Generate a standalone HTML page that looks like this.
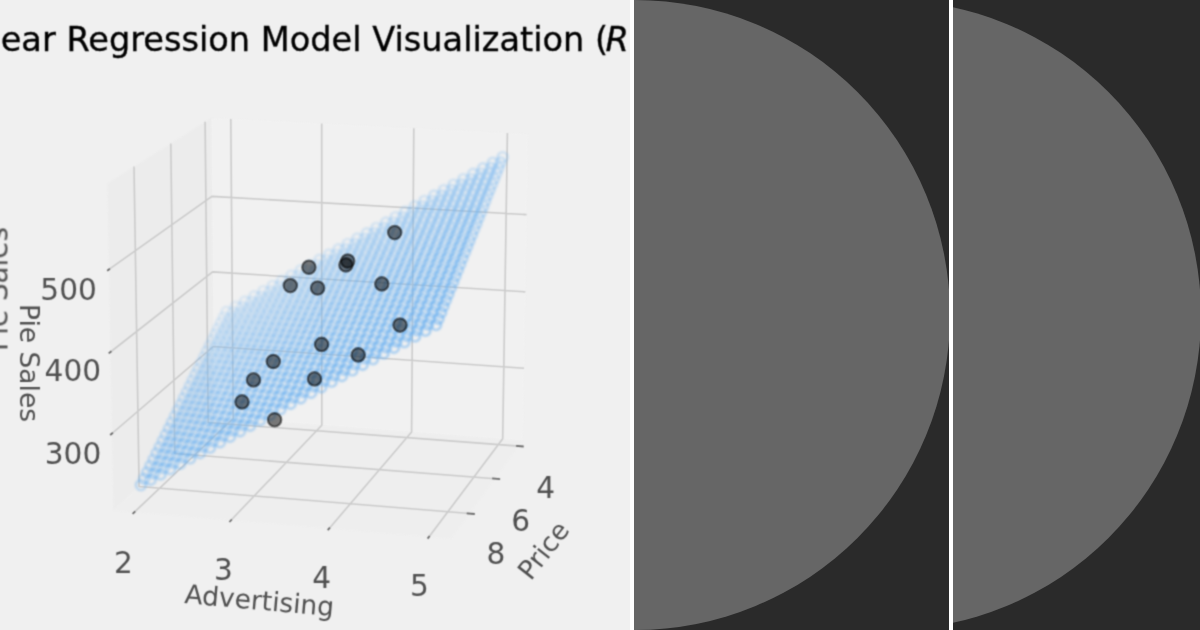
<!DOCTYPE html>
<html lang="en"><head><meta charset="utf-8"><title>Multi-Linear Regression Model Visualization</title>
<style>
html,body{margin:0;padding:0;background:#fff;}
body{width:1200px;height:630px;overflow:hidden;position:relative;font-family:"DejaVu Sans","Liberation Sans",sans-serif;}
.p{position:absolute;top:0;height:630px;overflow:hidden;}
#a{left:0;width:630px;background:#f0f0f0;}
#b{left:634px;width:315px;background:#2a2a2a;}
#c{left:953px;width:247px;background:#2a2a2a;}
.c{position:absolute;width:630px;height:630px;border-radius:50%;background:#666;top:0;}
svg{display:block;font-family:"DejaVu Sans","Liberation Sans",sans-serif;}
</style></head><body>
<div class="p" id="a"><svg width="630" height="630" viewBox="0 0 630 630">
<defs><filter id="bl" x="0" y="0" width="630" height="630" filterUnits="userSpaceOnUse" color-interpolation-filters="sRGB"><feConvolveMatrix order="3" divisor="1" edgeMode="duplicate" preserveAlpha="false" kernelMatrix="0.0400 0.1200 0.0400 0.1200 0.3600 0.1200 0.0400 0.1200 0.0400"/></filter><filter id="mb" x="100" y="120" width="440" height="400" filterUnits="userSpaceOnUse" color-interpolation-filters="sRGB"><feGaussianBlur stdDeviation="1"/></filter></defs>
<g filter="url(#bl)">
<polygon points="214,417 522.8,440.4 528,134.2 211.2,117.9" fill="#f1f1f1"/>
<polygon points="214,417 113.4,510.4 107.4,183.4 211.2,117.9" fill="#ececec"/>
<polygon points="214,417 522.8,440.4 451,538.7 113.4,510.4" fill="#eeeeee"/>
<path d="M518.6 446.1 L208.2 422.5 L205.1 121.7 M494.8 478.7 L174.8 453.5 L170.8 143.4 M469.4 513.5 L139.1 486.5 L134 166.6 M230.8 118.9 L233.2 418.5 L134.4 512.2 M321.7 123.6 L321.8 425.2 L231 520.3 M413.8 128.3 L411.6 431.9 L329.2 528.5 M507.4 133.1 L502.7 438.8 L428.9 536.9 M112 433.5 L213.3 346.5 L524 368.2 M110.5 352 L212.6 271.9 L525.3 291.9 M109 269.4 L211.9 196.4 L526.6 214.6" fill="none" stroke="#cbcbcb" stroke-width="1.6" stroke-linejoin="round"/>
<path d="M516.1 445.9 L523.7 446.5 M492.2 478.4 L500.1 479.1 M466.7 513.3 L474.8 514 M135.2 511.4 L132.6 513.9 M231.8 519.5 L229.4 522 M329.9 527.7 L327.7 530.2 M429.6 536 L427.6 538.6 M112.9 432.7 L110.2 435 M111.4 351.3 L108.7 353.4 M109.9 268.7 L107.2 270.7" fill="none" stroke="#6a6a6a" stroke-width="1.8"/>
<g fill="none" stroke="#70b3f0" stroke-width="1.4" filter="url(#mb)">
<circle cx="226.5" cy="311.8" r="5" stroke-opacity="0.30"/>
<circle cx="235.7" cy="306.6" r="5" stroke-opacity="0.31"/>
<circle cx="244.9" cy="301.5" r="5" stroke-opacity="0.31"/>
<circle cx="223.8" cy="317.4" r="5" stroke-opacity="0.31"/>
<circle cx="254.2" cy="296.3" r="5" stroke-opacity="0.32"/>
<circle cx="233" cy="312.2" r="5" stroke-opacity="0.32"/>
<circle cx="263.4" cy="291.1" r="5" stroke-opacity="0.33"/>
<circle cx="242.2" cy="307" r="5" stroke-opacity="0.33"/>
<circle cx="221" cy="322.9" r="5" stroke-opacity="0.33"/>
<circle cx="272.7" cy="285.9" r="5" stroke-opacity="0.34"/>
<circle cx="251.5" cy="301.8" r="5" stroke-opacity="0.34"/>
<circle cx="230.2" cy="317.8" r="5" stroke-opacity="0.34"/>
<circle cx="282" cy="280.7" r="5" stroke-opacity="0.34"/>
<circle cx="260.8" cy="296.7" r="5" stroke-opacity="0.34"/>
<circle cx="239.5" cy="312.6" r="5" stroke-opacity="0.34"/>
<circle cx="218.2" cy="328.6" r="5" stroke-opacity="0.34"/>
<circle cx="291.4" cy="275.5" r="5" stroke-opacity="0.35"/>
<circle cx="270.1" cy="291.5" r="5" stroke-opacity="0.35"/>
<circle cx="248.8" cy="307.4" r="5" stroke-opacity="0.35"/>
<circle cx="227.5" cy="323.4" r="5" stroke-opacity="0.35"/>
<circle cx="300.7" cy="270.2" r="5" stroke-opacity="0.36"/>
<circle cx="279.4" cy="286.2" r="5" stroke-opacity="0.36"/>
<circle cx="258.1" cy="302.2" r="5" stroke-opacity="0.36"/>
<circle cx="236.8" cy="318.2" r="5" stroke-opacity="0.36"/>
<circle cx="215.5" cy="334.2" r="5" stroke-opacity="0.36"/>
<circle cx="310.1" cy="265" r="5" stroke-opacity="0.36"/>
<circle cx="288.8" cy="281" r="5" stroke-opacity="0.37"/>
<circle cx="267.4" cy="297" r="5" stroke-opacity="0.37"/>
<circle cx="246.1" cy="313" r="5" stroke-opacity="0.37"/>
<circle cx="224.7" cy="329" r="5" stroke-opacity="0.37"/>
<circle cx="319.5" cy="259.7" r="5" stroke-opacity="0.37"/>
<circle cx="298.1" cy="275.8" r="5" stroke-opacity="0.37"/>
<circle cx="276.8" cy="291.8" r="5" stroke-opacity="0.37"/>
<circle cx="255.4" cy="307.8" r="5" stroke-opacity="0.37"/>
<circle cx="234" cy="323.8" r="5" stroke-opacity="0.37"/>
<circle cx="212.7" cy="339.9" r="5" stroke-opacity="0.37"/>
<circle cx="328.9" cy="254.5" r="5" stroke-opacity="0.38"/>
<circle cx="307.5" cy="270.5" r="5" stroke-opacity="0.38"/>
<circle cx="286.1" cy="286.5" r="5" stroke-opacity="0.38"/>
<circle cx="264.7" cy="302.6" r="5" stroke-opacity="0.38"/>
<circle cx="243.3" cy="318.6" r="5" stroke-opacity="0.38"/>
<circle cx="221.9" cy="334.7" r="5" stroke-opacity="0.38"/>
<circle cx="338.4" cy="249.2" r="5" stroke-opacity="0.39"/>
<circle cx="317" cy="265.2" r="5" stroke-opacity="0.39"/>
<circle cx="295.5" cy="281.3" r="5" stroke-opacity="0.39"/>
<circle cx="274.1" cy="297.4" r="5" stroke-opacity="0.39"/>
<circle cx="252.7" cy="313.4" r="5" stroke-opacity="0.39"/>
<circle cx="231.3" cy="329.5" r="5" stroke-opacity="0.39"/>
<circle cx="209.8" cy="345.6" r="5" stroke-opacity="0.39"/>
<circle cx="347.8" cy="243.9" r="5" stroke-opacity="0.39"/>
<circle cx="326.4" cy="259.9" r="5" stroke-opacity="0.39"/>
<circle cx="304.9" cy="276" r="5" stroke-opacity="0.39"/>
<circle cx="283.5" cy="292.1" r="5" stroke-opacity="0.39"/>
<circle cx="262.1" cy="308.2" r="5" stroke-opacity="0.39"/>
<circle cx="240.6" cy="324.3" r="5" stroke-opacity="0.39"/>
<circle cx="219.2" cy="340.4" r="5" stroke-opacity="0.40"/>
<circle cx="357.3" cy="238.5" r="5" stroke-opacity="0.40"/>
<circle cx="335.9" cy="254.6" r="5" stroke-opacity="0.40"/>
<circle cx="314.4" cy="270.7" r="5" stroke-opacity="0.40"/>
<circle cx="292.9" cy="286.9" r="5" stroke-opacity="0.40"/>
<circle cx="271.4" cy="303" r="5" stroke-opacity="0.40"/>
<circle cx="250" cy="319.1" r="5" stroke-opacity="0.40"/>
<circle cx="228.5" cy="335.2" r="5" stroke-opacity="0.40"/>
<circle cx="207" cy="351.3" r="5" stroke-opacity="0.40"/>
<circle cx="366.9" cy="233.2" r="5" stroke-opacity="0.41"/>
<circle cx="345.4" cy="249.3" r="5" stroke-opacity="0.41"/>
<circle cx="323.9" cy="265.5" r="5" stroke-opacity="0.41"/>
<circle cx="302.4" cy="281.6" r="5" stroke-opacity="0.41"/>
<circle cx="280.9" cy="297.7" r="5" stroke-opacity="0.41"/>
<circle cx="259.4" cy="313.8" r="5" stroke-opacity="0.41"/>
<circle cx="237.8" cy="330" r="5" stroke-opacity="0.41"/>
<circle cx="216.3" cy="346.1" r="5" stroke-opacity="0.41"/>
<circle cx="376.4" cy="227.9" r="5" stroke-opacity="0.42"/>
<circle cx="354.9" cy="244" r="5" stroke-opacity="0.42"/>
<circle cx="333.3" cy="260.2" r="5" stroke-opacity="0.42"/>
<circle cx="311.8" cy="276.3" r="5" stroke-opacity="0.42"/>
<circle cx="290.3" cy="292.5" r="5" stroke-opacity="0.42"/>
<circle cx="268.8" cy="308.6" r="5" stroke-opacity="0.42"/>
<circle cx="247.2" cy="324.8" r="5" stroke-opacity="0.42"/>
<circle cx="225.7" cy="340.9" r="5" stroke-opacity="0.42"/>
<circle cx="204.2" cy="357.1" r="5" stroke-opacity="0.42"/>
<circle cx="386" cy="222.5" r="5" stroke-opacity="0.42"/>
<circle cx="364.4" cy="238.7" r="5" stroke-opacity="0.42"/>
<circle cx="342.9" cy="254.8" r="5" stroke-opacity="0.42"/>
<circle cx="321.3" cy="271" r="5" stroke-opacity="0.42"/>
<circle cx="299.8" cy="287.2" r="5" stroke-opacity="0.42"/>
<circle cx="278.2" cy="303.3" r="5" stroke-opacity="0.42"/>
<circle cx="256.6" cy="319.5" r="5" stroke-opacity="0.42"/>
<circle cx="235.1" cy="335.7" r="5" stroke-opacity="0.42"/>
<circle cx="213.5" cy="351.9" r="5" stroke-opacity="0.42"/>
<circle cx="395.6" cy="217.1" r="5" stroke-opacity="0.43"/>
<circle cx="374" cy="233.3" r="5" stroke-opacity="0.43"/>
<circle cx="352.4" cy="249.5" r="5" stroke-opacity="0.43"/>
<circle cx="330.8" cy="265.7" r="5" stroke-opacity="0.43"/>
<circle cx="309.2" cy="281.9" r="5" stroke-opacity="0.43"/>
<circle cx="287.7" cy="298.1" r="5" stroke-opacity="0.43"/>
<circle cx="266.1" cy="314.3" r="5" stroke-opacity="0.43"/>
<circle cx="244.5" cy="330.5" r="5" stroke-opacity="0.43"/>
<circle cx="222.9" cy="346.6" r="5" stroke-opacity="0.43"/>
<circle cx="201.3" cy="362.8" r="5" stroke-opacity="0.43"/>
<circle cx="405.2" cy="211.7" r="5" stroke-opacity="0.44"/>
<circle cx="383.6" cy="228" r="5" stroke-opacity="0.44"/>
<circle cx="362" cy="244.2" r="5" stroke-opacity="0.44"/>
<circle cx="340.4" cy="260.4" r="5" stroke-opacity="0.44"/>
<circle cx="318.7" cy="276.6" r="5" stroke-opacity="0.44"/>
<circle cx="297.1" cy="292.8" r="5" stroke-opacity="0.44"/>
<circle cx="275.5" cy="309" r="5" stroke-opacity="0.44"/>
<circle cx="253.9" cy="325.2" r="5" stroke-opacity="0.44"/>
<circle cx="232.3" cy="341.4" r="5" stroke-opacity="0.44"/>
<circle cx="210.7" cy="357.6" r="5" stroke-opacity="0.44"/>
<circle cx="414.8" cy="206.3" r="5" stroke-opacity="0.45"/>
<circle cx="393.2" cy="222.6" r="5" stroke-opacity="0.45"/>
<circle cx="371.6" cy="238.8" r="5" stroke-opacity="0.45"/>
<circle cx="349.9" cy="255" r="5" stroke-opacity="0.45"/>
<circle cx="328.3" cy="271.3" r="5" stroke-opacity="0.45"/>
<circle cx="306.6" cy="287.5" r="5" stroke-opacity="0.45"/>
<circle cx="285" cy="303.7" r="5" stroke-opacity="0.45"/>
<circle cx="263.4" cy="320" r="5" stroke-opacity="0.45"/>
<circle cx="241.7" cy="336.2" r="5" stroke-opacity="0.45"/>
<circle cx="220.1" cy="352.4" r="5" stroke-opacity="0.45"/>
<circle cx="198.4" cy="368.7" r="5" stroke-opacity="0.45"/>
<circle cx="424.5" cy="200.9" r="5" stroke-opacity="0.45"/>
<circle cx="402.8" cy="217.2" r="5" stroke-opacity="0.45"/>
<circle cx="381.2" cy="233.4" r="5" stroke-opacity="0.45"/>
<circle cx="359.5" cy="249.7" r="5" stroke-opacity="0.45"/>
<circle cx="337.8" cy="265.9" r="5" stroke-opacity="0.45"/>
<circle cx="316.2" cy="282.2" r="5" stroke-opacity="0.45"/>
<circle cx="294.5" cy="298.4" r="5" stroke-opacity="0.45"/>
<circle cx="272.8" cy="314.7" r="5" stroke-opacity="0.45"/>
<circle cx="251.2" cy="330.9" r="5" stroke-opacity="0.45"/>
<circle cx="229.5" cy="347.2" r="5" stroke-opacity="0.46"/>
<circle cx="207.8" cy="363.5" r="5" stroke-opacity="0.46"/>
<circle cx="434.2" cy="195.5" r="5" stroke-opacity="0.46"/>
<circle cx="412.5" cy="211.8" r="5" stroke-opacity="0.46"/>
<circle cx="390.8" cy="228" r="5" stroke-opacity="0.46"/>
<circle cx="369.1" cy="244.3" r="5" stroke-opacity="0.46"/>
<circle cx="347.4" cy="260.6" r="5" stroke-opacity="0.46"/>
<circle cx="325.7" cy="276.9" r="5" stroke-opacity="0.46"/>
<circle cx="304" cy="293.1" r="5" stroke-opacity="0.46"/>
<circle cx="282.3" cy="309.4" r="5" stroke-opacity="0.46"/>
<circle cx="260.6" cy="325.7" r="5" stroke-opacity="0.46"/>
<circle cx="238.9" cy="342" r="5" stroke-opacity="0.46"/>
<circle cx="217.2" cy="358.2" r="5" stroke-opacity="0.46"/>
<circle cx="195.5" cy="374.5" r="5" stroke-opacity="0.46"/>
<circle cx="443.9" cy="190.1" r="5" stroke-opacity="0.47"/>
<circle cx="422.2" cy="206.4" r="5" stroke-opacity="0.47"/>
<circle cx="400.5" cy="222.6" r="5" stroke-opacity="0.47"/>
<circle cx="378.7" cy="238.9" r="5" stroke-opacity="0.47"/>
<circle cx="357" cy="255.2" r="5" stroke-opacity="0.47"/>
<circle cx="335.3" cy="271.5" r="5" stroke-opacity="0.47"/>
<circle cx="313.6" cy="287.8" r="5" stroke-opacity="0.47"/>
<circle cx="291.9" cy="304.1" r="5" stroke-opacity="0.47"/>
<circle cx="270.1" cy="320.4" r="5" stroke-opacity="0.47"/>
<circle cx="248.4" cy="336.7" r="5" stroke-opacity="0.47"/>
<circle cx="226.7" cy="353" r="5" stroke-opacity="0.47"/>
<circle cx="205" cy="369.3" r="5" stroke-opacity="0.47"/>
<circle cx="453.6" cy="184.6" r="5" stroke-opacity="0.48"/>
<circle cx="431.9" cy="200.9" r="5" stroke-opacity="0.48"/>
<circle cx="410.1" cy="217.2" r="5" stroke-opacity="0.48"/>
<circle cx="388.4" cy="233.5" r="5" stroke-opacity="0.48"/>
<circle cx="366.7" cy="249.9" r="5" stroke-opacity="0.48"/>
<circle cx="344.9" cy="266.2" r="5" stroke-opacity="0.48"/>
<circle cx="323.2" cy="282.5" r="5" stroke-opacity="0.48"/>
<circle cx="301.4" cy="298.8" r="5" stroke-opacity="0.48"/>
<circle cx="279.7" cy="315.1" r="5" stroke-opacity="0.48"/>
<circle cx="257.9" cy="331.4" r="5" stroke-opacity="0.48"/>
<circle cx="236.1" cy="347.7" r="5" stroke-opacity="0.48"/>
<circle cx="214.4" cy="364.1" r="5" stroke-opacity="0.48"/>
<circle cx="192.6" cy="380.4" r="5" stroke-opacity="0.48"/>
<circle cx="463.4" cy="179.1" r="5" stroke-opacity="0.48"/>
<circle cx="441.6" cy="195.5" r="5" stroke-opacity="0.48"/>
<circle cx="419.9" cy="211.8" r="5" stroke-opacity="0.48"/>
<circle cx="398.1" cy="228.1" r="5" stroke-opacity="0.48"/>
<circle cx="376.3" cy="244.5" r="5" stroke-opacity="0.48"/>
<circle cx="354.5" cy="260.8" r="5" stroke-opacity="0.48"/>
<circle cx="332.8" cy="277.1" r="5" stroke-opacity="0.48"/>
<circle cx="311" cy="293.5" r="5" stroke-opacity="0.48"/>
<circle cx="289.2" cy="309.8" r="5" stroke-opacity="0.49"/>
<circle cx="267.4" cy="326.1" r="5" stroke-opacity="0.49"/>
<circle cx="245.6" cy="342.5" r="5" stroke-opacity="0.49"/>
<circle cx="223.9" cy="358.8" r="5" stroke-opacity="0.49"/>
<circle cx="202.1" cy="375.2" r="5" stroke-opacity="0.49"/>
<circle cx="473.2" cy="173.7" r="5" stroke-opacity="0.49"/>
<circle cx="451.4" cy="190" r="5" stroke-opacity="0.49"/>
<circle cx="429.6" cy="206.4" r="5" stroke-opacity="0.49"/>
<circle cx="407.8" cy="222.7" r="5" stroke-opacity="0.49"/>
<circle cx="386" cy="239.1" r="5" stroke-opacity="0.49"/>
<circle cx="364.2" cy="255.4" r="5" stroke-opacity="0.49"/>
<circle cx="342.4" cy="271.8" r="5" stroke-opacity="0.49"/>
<circle cx="320.6" cy="288.1" r="5" stroke-opacity="0.49"/>
<circle cx="298.8" cy="304.5" r="5" stroke-opacity="0.49"/>
<circle cx="277" cy="320.9" r="5" stroke-opacity="0.49"/>
<circle cx="255.2" cy="337.2" r="5" stroke-opacity="0.49"/>
<circle cx="233.3" cy="353.6" r="5" stroke-opacity="0.49"/>
<circle cx="211.5" cy="369.9" r="5" stroke-opacity="0.49"/>
<circle cx="189.7" cy="386.3" r="5" stroke-opacity="0.49"/>
<circle cx="483" cy="168.2" r="5" stroke-opacity="0.50"/>
<circle cx="461.2" cy="184.5" r="5" stroke-opacity="0.50"/>
<circle cx="439.3" cy="200.9" r="5" stroke-opacity="0.50"/>
<circle cx="417.5" cy="217.3" r="5" stroke-opacity="0.50"/>
<circle cx="395.7" cy="233.7" r="5" stroke-opacity="0.50"/>
<circle cx="373.9" cy="250" r="5" stroke-opacity="0.50"/>
<circle cx="352" cy="266.4" r="5" stroke-opacity="0.50"/>
<circle cx="330.2" cy="282.8" r="5" stroke-opacity="0.50"/>
<circle cx="308.4" cy="299.2" r="5" stroke-opacity="0.50"/>
<circle cx="286.5" cy="315.5" r="5" stroke-opacity="0.50"/>
<circle cx="264.7" cy="331.9" r="5" stroke-opacity="0.50"/>
<circle cx="242.9" cy="348.3" r="5" stroke-opacity="0.50"/>
<circle cx="221" cy="364.7" r="5" stroke-opacity="0.50"/>
<circle cx="199.2" cy="381.1" r="5" stroke-opacity="0.50"/>
<circle cx="492.8" cy="162.7" r="5" stroke-opacity="0.51"/>
<circle cx="471" cy="179.1" r="5" stroke-opacity="0.51"/>
<circle cx="449.1" cy="195.4" r="5" stroke-opacity="0.51"/>
<circle cx="427.3" cy="211.8" r="5" stroke-opacity="0.51"/>
<circle cx="405.4" cy="228.2" r="5" stroke-opacity="0.51"/>
<circle cx="383.6" cy="244.6" r="5" stroke-opacity="0.51"/>
<circle cx="361.7" cy="261" r="5" stroke-opacity="0.51"/>
<circle cx="339.8" cy="277.4" r="5" stroke-opacity="0.51"/>
<circle cx="318" cy="293.8" r="5" stroke-opacity="0.51"/>
<circle cx="296.1" cy="310.2" r="5" stroke-opacity="0.51"/>
<circle cx="274.3" cy="326.6" r="5" stroke-opacity="0.51"/>
<circle cx="252.4" cy="343" r="5" stroke-opacity="0.51"/>
<circle cx="230.5" cy="359.4" r="5" stroke-opacity="0.51"/>
<circle cx="208.7" cy="375.8" r="5" stroke-opacity="0.51"/>
<circle cx="186.8" cy="392.2" r="5" stroke-opacity="0.51"/>
<circle cx="502.7" cy="157.1" r="5" stroke-opacity="0.51"/>
<circle cx="480.8" cy="173.6" r="5" stroke-opacity="0.51"/>
<circle cx="458.9" cy="190" r="5" stroke-opacity="0.51"/>
<circle cx="437.1" cy="206.4" r="5" stroke-opacity="0.51"/>
<circle cx="415.2" cy="222.8" r="5" stroke-opacity="0.52"/>
<circle cx="393.3" cy="239.2" r="5" stroke-opacity="0.52"/>
<circle cx="371.4" cy="255.6" r="5" stroke-opacity="0.52"/>
<circle cx="349.5" cy="272" r="5" stroke-opacity="0.52"/>
<circle cx="327.6" cy="288.5" r="5" stroke-opacity="0.52"/>
<circle cx="305.7" cy="304.9" r="5" stroke-opacity="0.52"/>
<circle cx="283.8" cy="321.3" r="5" stroke-opacity="0.52"/>
<circle cx="261.9" cy="337.7" r="5" stroke-opacity="0.52"/>
<circle cx="240.1" cy="354.1" r="5" stroke-opacity="0.52"/>
<circle cx="218.2" cy="370.6" r="5" stroke-opacity="0.52"/>
<circle cx="196.3" cy="387" r="5" stroke-opacity="0.52"/>
<circle cx="490.7" cy="168" r="5" stroke-opacity="0.52"/>
<circle cx="468.8" cy="184.5" r="5" stroke-opacity="0.52"/>
<circle cx="446.9" cy="200.9" r="5" stroke-opacity="0.52"/>
<circle cx="424.9" cy="217.3" r="5" stroke-opacity="0.52"/>
<circle cx="403" cy="233.8" r="5" stroke-opacity="0.52"/>
<circle cx="381.1" cy="250.2" r="5" stroke-opacity="0.52"/>
<circle cx="359.2" cy="266.7" r="5" stroke-opacity="0.52"/>
<circle cx="337.3" cy="283.1" r="5" stroke-opacity="0.52"/>
<circle cx="315.4" cy="299.5" r="5" stroke-opacity="0.52"/>
<circle cx="293.5" cy="316" r="5" stroke-opacity="0.52"/>
<circle cx="271.5" cy="332.4" r="5" stroke-opacity="0.52"/>
<circle cx="249.6" cy="348.9" r="5" stroke-opacity="0.52"/>
<circle cx="227.7" cy="365.3" r="5" stroke-opacity="0.52"/>
<circle cx="205.8" cy="381.8" r="5" stroke-opacity="0.52"/>
<circle cx="183.8" cy="398.2" r="5" stroke-opacity="0.52"/>
<circle cx="500.6" cy="162.5" r="5" stroke-opacity="0.53"/>
<circle cx="478.6" cy="179" r="5" stroke-opacity="0.53"/>
<circle cx="456.7" cy="195.4" r="5" stroke-opacity="0.53"/>
<circle cx="434.7" cy="211.9" r="5" stroke-opacity="0.53"/>
<circle cx="412.8" cy="228.3" r="5" stroke-opacity="0.53"/>
<circle cx="390.9" cy="244.8" r="5" stroke-opacity="0.53"/>
<circle cx="368.9" cy="261.2" r="5" stroke-opacity="0.53"/>
<circle cx="347" cy="277.7" r="5" stroke-opacity="0.53"/>
<circle cx="325" cy="294.2" r="5" stroke-opacity="0.53"/>
<circle cx="303.1" cy="310.6" r="5" stroke-opacity="0.53"/>
<circle cx="281.1" cy="327.1" r="5" stroke-opacity="0.53"/>
<circle cx="259.2" cy="343.6" r="5" stroke-opacity="0.53"/>
<circle cx="237.2" cy="360" r="5" stroke-opacity="0.53"/>
<circle cx="215.3" cy="376.5" r="5" stroke-opacity="0.53"/>
<circle cx="193.3" cy="393" r="5" stroke-opacity="0.53"/>
<circle cx="488.5" cy="173.4" r="5" stroke-opacity="0.54"/>
<circle cx="466.5" cy="189.9" r="5" stroke-opacity="0.54"/>
<circle cx="444.6" cy="206.4" r="5" stroke-opacity="0.54"/>
<circle cx="422.6" cy="222.9" r="5" stroke-opacity="0.54"/>
<circle cx="400.6" cy="239.3" r="5" stroke-opacity="0.54"/>
<circle cx="378.7" cy="255.8" r="5" stroke-opacity="0.54"/>
<circle cx="356.7" cy="272.3" r="5" stroke-opacity="0.54"/>
<circle cx="334.7" cy="288.8" r="5" stroke-opacity="0.54"/>
<circle cx="312.7" cy="305.3" r="5" stroke-opacity="0.54"/>
<circle cx="290.8" cy="321.8" r="5" stroke-opacity="0.54"/>
<circle cx="268.8" cy="338.2" r="5" stroke-opacity="0.54"/>
<circle cx="246.8" cy="354.7" r="5" stroke-opacity="0.54"/>
<circle cx="224.8" cy="371.2" r="5" stroke-opacity="0.54"/>
<circle cx="202.9" cy="387.7" r="5" stroke-opacity="0.54"/>
<circle cx="180.9" cy="404.2" r="5" stroke-opacity="0.54"/>
<circle cx="498.4" cy="167.9" r="5" stroke-opacity="0.55"/>
<circle cx="476.4" cy="184.4" r="5" stroke-opacity="0.55"/>
<circle cx="454.4" cy="200.9" r="5" stroke-opacity="0.55"/>
<circle cx="432.4" cy="217.4" r="5" stroke-opacity="0.55"/>
<circle cx="410.4" cy="233.9" r="5" stroke-opacity="0.55"/>
<circle cx="388.4" cy="250.4" r="5" stroke-opacity="0.55"/>
<circle cx="366.4" cy="266.9" r="5" stroke-opacity="0.55"/>
<circle cx="344.4" cy="283.4" r="5" stroke-opacity="0.55"/>
<circle cx="322.4" cy="299.9" r="5" stroke-opacity="0.55"/>
<circle cx="300.4" cy="316.4" r="5" stroke-opacity="0.55"/>
<circle cx="278.4" cy="332.9" r="5" stroke-opacity="0.55"/>
<circle cx="256.4" cy="349.4" r="5" stroke-opacity="0.55"/>
<circle cx="234.4" cy="365.9" r="5" stroke-opacity="0.55"/>
<circle cx="212.4" cy="382.4" r="5" stroke-opacity="0.55"/>
<circle cx="190.4" cy="399" r="5" stroke-opacity="0.55"/>
<circle cx="486.3" cy="178.9" r="5" stroke-opacity="0.55"/>
<circle cx="464.3" cy="195.4" r="5" stroke-opacity="0.55"/>
<circle cx="442.3" cy="211.9" r="5" stroke-opacity="0.55"/>
<circle cx="420.3" cy="228.4" r="5" stroke-opacity="0.55"/>
<circle cx="398.2" cy="244.9" r="5" stroke-opacity="0.55"/>
<circle cx="376.2" cy="261.5" r="5" stroke-opacity="0.55"/>
<circle cx="354.2" cy="278" r="5" stroke-opacity="0.55"/>
<circle cx="332.1" cy="294.5" r="5" stroke-opacity="0.55"/>
<circle cx="310.1" cy="311.1" r="5" stroke-opacity="0.55"/>
<circle cx="288.1" cy="327.6" r="5" stroke-opacity="0.55"/>
<circle cx="266" cy="344.1" r="5" stroke-opacity="0.56"/>
<circle cx="244" cy="360.6" r="5" stroke-opacity="0.56"/>
<circle cx="222" cy="377.2" r="5" stroke-opacity="0.56"/>
<circle cx="199.9" cy="393.7" r="5" stroke-opacity="0.56"/>
<circle cx="177.9" cy="410.2" r="5" stroke-opacity="0.56"/>
<circle cx="496.3" cy="173.3" r="5" stroke-opacity="0.56"/>
<circle cx="474.2" cy="189.9" r="5" stroke-opacity="0.56"/>
<circle cx="452.2" cy="206.4" r="5" stroke-opacity="0.56"/>
<circle cx="430.1" cy="222.9" r="5" stroke-opacity="0.56"/>
<circle cx="408.1" cy="239.5" r="5" stroke-opacity="0.56"/>
<circle cx="386" cy="256" r="5" stroke-opacity="0.56"/>
<circle cx="363.9" cy="272.6" r="5" stroke-opacity="0.56"/>
<circle cx="341.9" cy="289.1" r="5" stroke-opacity="0.56"/>
<circle cx="319.8" cy="305.7" r="5" stroke-opacity="0.56"/>
<circle cx="297.8" cy="322.2" r="5" stroke-opacity="0.56"/>
<circle cx="275.7" cy="338.8" r="5" stroke-opacity="0.56"/>
<circle cx="253.6" cy="355.3" r="5" stroke-opacity="0.56"/>
<circle cx="231.6" cy="371.9" r="5" stroke-opacity="0.56"/>
<circle cx="209.5" cy="388.4" r="5" stroke-opacity="0.56"/>
<circle cx="187.4" cy="405" r="5" stroke-opacity="0.56"/>
<circle cx="484.1" cy="184.3" r="5" stroke-opacity="0.57"/>
<circle cx="462.1" cy="200.9" r="5" stroke-opacity="0.57"/>
<circle cx="440" cy="217.4" r="5" stroke-opacity="0.57"/>
<circle cx="417.9" cy="234" r="5" stroke-opacity="0.57"/>
<circle cx="395.8" cy="250.6" r="5" stroke-opacity="0.57"/>
<circle cx="373.7" cy="267.1" r="5" stroke-opacity="0.57"/>
<circle cx="351.6" cy="283.7" r="5" stroke-opacity="0.57"/>
<circle cx="329.6" cy="300.3" r="5" stroke-opacity="0.57"/>
<circle cx="307.5" cy="316.9" r="5" stroke-opacity="0.57"/>
<circle cx="285.4" cy="333.4" r="5" stroke-opacity="0.57"/>
<circle cx="263.3" cy="350" r="5" stroke-opacity="0.57"/>
<circle cx="241.2" cy="366.6" r="5" stroke-opacity="0.57"/>
<circle cx="219.1" cy="383.1" r="5" stroke-opacity="0.57"/>
<circle cx="197" cy="399.7" r="5" stroke-opacity="0.57"/>
<circle cx="174.9" cy="416.3" r="5" stroke-opacity="0.57"/>
<circle cx="494.1" cy="178.8" r="5" stroke-opacity="0.58"/>
<circle cx="472" cy="195.4" r="5" stroke-opacity="0.58"/>
<circle cx="449.9" cy="211.9" r="5" stroke-opacity="0.58"/>
<circle cx="427.8" cy="228.5" r="5" stroke-opacity="0.58"/>
<circle cx="405.7" cy="245.1" r="5" stroke-opacity="0.58"/>
<circle cx="383.5" cy="261.7" r="5" stroke-opacity="0.58"/>
<circle cx="361.4" cy="278.3" r="5" stroke-opacity="0.58"/>
<circle cx="339.3" cy="294.9" r="5" stroke-opacity="0.58"/>
<circle cx="317.2" cy="311.5" r="5" stroke-opacity="0.58"/>
<circle cx="295.1" cy="328.1" r="5" stroke-opacity="0.58"/>
<circle cx="273" cy="344.7" r="5" stroke-opacity="0.58"/>
<circle cx="250.8" cy="361.2" r="5" stroke-opacity="0.58"/>
<circle cx="228.7" cy="377.8" r="5" stroke-opacity="0.58"/>
<circle cx="206.6" cy="394.4" r="5" stroke-opacity="0.58"/>
<circle cx="184.5" cy="411" r="5" stroke-opacity="0.58"/>
<circle cx="481.9" cy="189.8" r="5" stroke-opacity="0.59"/>
<circle cx="459.8" cy="206.4" r="5" stroke-opacity="0.59"/>
<circle cx="437.7" cy="223" r="5" stroke-opacity="0.59"/>
<circle cx="415.5" cy="239.6" r="5" stroke-opacity="0.59"/>
<circle cx="393.4" cy="256.2" r="5" stroke-opacity="0.59"/>
<circle cx="371.2" cy="272.8" r="5" stroke-opacity="0.59"/>
<circle cx="349.1" cy="289.5" r="5" stroke-opacity="0.59"/>
<circle cx="326.9" cy="306.1" r="5" stroke-opacity="0.59"/>
<circle cx="304.8" cy="322.7" r="5" stroke-opacity="0.59"/>
<circle cx="282.7" cy="339.3" r="5" stroke-opacity="0.59"/>
<circle cx="260.5" cy="355.9" r="5" stroke-opacity="0.59"/>
<circle cx="238.4" cy="372.5" r="5" stroke-opacity="0.59"/>
<circle cx="216.2" cy="389.1" r="5" stroke-opacity="0.59"/>
<circle cx="194" cy="405.8" r="5" stroke-opacity="0.59"/>
<circle cx="171.9" cy="422.4" r="5" stroke-opacity="0.59"/>
<circle cx="491.9" cy="184.2" r="5" stroke-opacity="0.59"/>
<circle cx="469.8" cy="200.9" r="5" stroke-opacity="0.59"/>
<circle cx="447.6" cy="217.5" r="5" stroke-opacity="0.59"/>
<circle cx="425.4" cy="234.1" r="5" stroke-opacity="0.59"/>
<circle cx="403.2" cy="250.8" r="5" stroke-opacity="0.59"/>
<circle cx="381.1" cy="267.4" r="5" stroke-opacity="0.59"/>
<circle cx="358.9" cy="284" r="5" stroke-opacity="0.59"/>
<circle cx="336.7" cy="300.7" r="5" stroke-opacity="0.59"/>
<circle cx="314.6" cy="317.3" r="5" stroke-opacity="0.59"/>
<circle cx="292.4" cy="333.9" r="5" stroke-opacity="0.59"/>
<circle cx="270.2" cy="350.6" r="5" stroke-opacity="0.59"/>
<circle cx="248" cy="367.2" r="5" stroke-opacity="0.59"/>
<circle cx="225.8" cy="383.8" r="5" stroke-opacity="0.59"/>
<circle cx="203.7" cy="400.5" r="5" stroke-opacity="0.59"/>
<circle cx="181.5" cy="417.1" r="5" stroke-opacity="0.60"/>
<circle cx="479.7" cy="195.3" r="5" stroke-opacity="0.60"/>
<circle cx="457.5" cy="212" r="5" stroke-opacity="0.60"/>
<circle cx="435.3" cy="228.6" r="5" stroke-opacity="0.60"/>
<circle cx="413.1" cy="245.3" r="5" stroke-opacity="0.60"/>
<circle cx="390.9" cy="261.9" r="5" stroke-opacity="0.60"/>
<circle cx="368.7" cy="278.6" r="5" stroke-opacity="0.60"/>
<circle cx="346.5" cy="295.2" r="5" stroke-opacity="0.60"/>
<circle cx="324.3" cy="311.9" r="5" stroke-opacity="0.60"/>
<circle cx="302.1" cy="328.5" r="5" stroke-opacity="0.60"/>
<circle cx="279.9" cy="345.2" r="5" stroke-opacity="0.60"/>
<circle cx="257.7" cy="361.9" r="5" stroke-opacity="0.60"/>
<circle cx="235.5" cy="378.5" r="5" stroke-opacity="0.60"/>
<circle cx="213.3" cy="395.2" r="5" stroke-opacity="0.60"/>
<circle cx="191.1" cy="411.8" r="5" stroke-opacity="0.60"/>
<circle cx="168.9" cy="428.5" r="5" stroke-opacity="0.60"/>
<circle cx="489.7" cy="189.8" r="5" stroke-opacity="0.61"/>
<circle cx="467.5" cy="206.4" r="5" stroke-opacity="0.61"/>
<circle cx="445.3" cy="223.1" r="5" stroke-opacity="0.61"/>
<circle cx="423.1" cy="239.8" r="5" stroke-opacity="0.61"/>
<circle cx="400.8" cy="256.4" r="5" stroke-opacity="0.61"/>
<circle cx="378.6" cy="273.1" r="5" stroke-opacity="0.61"/>
<circle cx="356.4" cy="289.8" r="5" stroke-opacity="0.61"/>
<circle cx="334.1" cy="306.5" r="5" stroke-opacity="0.61"/>
<circle cx="311.9" cy="323.2" r="5" stroke-opacity="0.61"/>
<circle cx="289.7" cy="339.8" r="5" stroke-opacity="0.61"/>
<circle cx="267.4" cy="356.5" r="5" stroke-opacity="0.61"/>
<circle cx="245.2" cy="373.2" r="5" stroke-opacity="0.61"/>
<circle cx="222.9" cy="389.9" r="5" stroke-opacity="0.61"/>
<circle cx="200.7" cy="406.6" r="5" stroke-opacity="0.61"/>
<circle cx="178.5" cy="423.2" r="5" stroke-opacity="0.61"/>
<circle cx="477.5" cy="200.9" r="5" stroke-opacity="0.62"/>
<circle cx="455.3" cy="217.6" r="5" stroke-opacity="0.62"/>
<circle cx="433" cy="234.3" r="5" stroke-opacity="0.62"/>
<circle cx="410.7" cy="250.9" r="5" stroke-opacity="0.62"/>
<circle cx="388.5" cy="267.6" r="5" stroke-opacity="0.62"/>
<circle cx="366.2" cy="284.3" r="5" stroke-opacity="0.62"/>
<circle cx="344" cy="301" r="5" stroke-opacity="0.62"/>
<circle cx="321.7" cy="317.7" r="5" stroke-opacity="0.62"/>
<circle cx="299.4" cy="334.4" r="5" stroke-opacity="0.62"/>
<circle cx="277.2" cy="351.1" r="5" stroke-opacity="0.62"/>
<circle cx="254.9" cy="367.8" r="5" stroke-opacity="0.62"/>
<circle cx="232.6" cy="384.6" r="5" stroke-opacity="0.62"/>
<circle cx="210.4" cy="401.3" r="5" stroke-opacity="0.62"/>
<circle cx="188.1" cy="418" r="5" stroke-opacity="0.62"/>
<circle cx="165.8" cy="434.7" r="5" stroke-opacity="0.62"/>
<circle cx="487.5" cy="195.3" r="5" stroke-opacity="0.62"/>
<circle cx="465.2" cy="212" r="5" stroke-opacity="0.62"/>
<circle cx="443" cy="228.7" r="5" stroke-opacity="0.63"/>
<circle cx="420.7" cy="245.4" r="5" stroke-opacity="0.63"/>
<circle cx="398.4" cy="262.2" r="5" stroke-opacity="0.63"/>
<circle cx="376.1" cy="278.9" r="5" stroke-opacity="0.63"/>
<circle cx="353.8" cy="295.6" r="5" stroke-opacity="0.63"/>
<circle cx="331.5" cy="312.3" r="5" stroke-opacity="0.63"/>
<circle cx="309.2" cy="329" r="5" stroke-opacity="0.63"/>
<circle cx="286.9" cy="345.8" r="5" stroke-opacity="0.63"/>
<circle cx="264.6" cy="362.5" r="5" stroke-opacity="0.63"/>
<circle cx="242.3" cy="379.2" r="5" stroke-opacity="0.63"/>
<circle cx="220" cy="395.9" r="5" stroke-opacity="0.63"/>
<circle cx="197.7" cy="412.7" r="5" stroke-opacity="0.63"/>
<circle cx="175.4" cy="429.4" r="5" stroke-opacity="0.63"/>
<circle cx="475.3" cy="206.4" r="5" stroke-opacity="0.63"/>
<circle cx="453" cy="223.2" r="5" stroke-opacity="0.63"/>
<circle cx="430.6" cy="239.9" r="5" stroke-opacity="0.63"/>
<circle cx="408.3" cy="256.7" r="5" stroke-opacity="0.63"/>
<circle cx="386" cy="273.4" r="5" stroke-opacity="0.63"/>
<circle cx="363.7" cy="290.1" r="5" stroke-opacity="0.63"/>
<circle cx="341.4" cy="306.9" r="5" stroke-opacity="0.63"/>
<circle cx="319" cy="323.6" r="5" stroke-opacity="0.63"/>
<circle cx="296.7" cy="340.4" r="5" stroke-opacity="0.63"/>
<circle cx="274.4" cy="357.1" r="5" stroke-opacity="0.63"/>
<circle cx="252.1" cy="373.9" r="5" stroke-opacity="0.63"/>
<circle cx="229.8" cy="390.6" r="5" stroke-opacity="0.63"/>
<circle cx="207.4" cy="407.4" r="5" stroke-opacity="0.63"/>
<circle cx="185.1" cy="424.1" r="5" stroke-opacity="0.64"/>
<circle cx="162.8" cy="440.9" r="5" stroke-opacity="0.64"/>
<circle cx="485.3" cy="200.9" r="5" stroke-opacity="0.64"/>
<circle cx="463" cy="217.6" r="5" stroke-opacity="0.64"/>
<circle cx="440.6" cy="234.4" r="5" stroke-opacity="0.64"/>
<circle cx="418.3" cy="251.1" r="5" stroke-opacity="0.64"/>
<circle cx="395.9" cy="267.9" r="5" stroke-opacity="0.64"/>
<circle cx="373.6" cy="284.7" r="5" stroke-opacity="0.64"/>
<circle cx="351.2" cy="301.4" r="5" stroke-opacity="0.64"/>
<circle cx="328.9" cy="318.2" r="5" stroke-opacity="0.64"/>
<circle cx="306.5" cy="335" r="5" stroke-opacity="0.64"/>
<circle cx="284.2" cy="351.7" r="5" stroke-opacity="0.64"/>
<circle cx="261.8" cy="368.5" r="5" stroke-opacity="0.64"/>
<circle cx="239.5" cy="385.3" r="5" stroke-opacity="0.64"/>
<circle cx="217.1" cy="402" r="5" stroke-opacity="0.64"/>
<circle cx="194.8" cy="418.8" r="5" stroke-opacity="0.64"/>
<circle cx="172.4" cy="435.6" r="5" stroke-opacity="0.64"/>
<circle cx="473" cy="212" r="5" stroke-opacity="0.65"/>
<circle cx="450.7" cy="228.8" r="5" stroke-opacity="0.65"/>
<circle cx="428.3" cy="245.6" r="5" stroke-opacity="0.65"/>
<circle cx="405.9" cy="262.4" r="5" stroke-opacity="0.65"/>
<circle cx="383.5" cy="279.2" r="5" stroke-opacity="0.65"/>
<circle cx="361.1" cy="296" r="5" stroke-opacity="0.65"/>
<circle cx="338.8" cy="312.7" r="5" stroke-opacity="0.65"/>
<circle cx="316.4" cy="329.5" r="5" stroke-opacity="0.65"/>
<circle cx="294" cy="346.3" r="5" stroke-opacity="0.65"/>
<circle cx="271.6" cy="363.1" r="5" stroke-opacity="0.65"/>
<circle cx="249.2" cy="379.9" r="5" stroke-opacity="0.65"/>
<circle cx="226.9" cy="396.7" r="5" stroke-opacity="0.65"/>
<circle cx="204.5" cy="413.5" r="5" stroke-opacity="0.65"/>
<circle cx="182.1" cy="430.3" r="5" stroke-opacity="0.65"/>
<circle cx="159.7" cy="447.1" r="5" stroke-opacity="0.65"/>
<circle cx="483.1" cy="206.4" r="5" stroke-opacity="0.66"/>
<circle cx="460.7" cy="223.2" r="5" stroke-opacity="0.66"/>
<circle cx="438.3" cy="240.1" r="5" stroke-opacity="0.66"/>
<circle cx="415.9" cy="256.9" r="5" stroke-opacity="0.66"/>
<circle cx="393.5" cy="273.7" r="5" stroke-opacity="0.66"/>
<circle cx="371.1" cy="290.5" r="5" stroke-opacity="0.66"/>
<circle cx="348.7" cy="307.3" r="5" stroke-opacity="0.66"/>
<circle cx="326.3" cy="324.1" r="5" stroke-opacity="0.66"/>
<circle cx="303.8" cy="340.9" r="5" stroke-opacity="0.66"/>
<circle cx="281.4" cy="357.7" r="5" stroke-opacity="0.66"/>
<circle cx="259" cy="374.5" r="5" stroke-opacity="0.66"/>
<circle cx="236.6" cy="391.3" r="5" stroke-opacity="0.66"/>
<circle cx="214.2" cy="408.2" r="5" stroke-opacity="0.66"/>
<circle cx="191.8" cy="425" r="5" stroke-opacity="0.66"/>
<circle cx="169.4" cy="441.8" r="5" stroke-opacity="0.66"/>
<circle cx="470.8" cy="217.7" r="5" stroke-opacity="0.67"/>
<circle cx="448.3" cy="234.5" r="5" stroke-opacity="0.67"/>
<circle cx="425.9" cy="251.3" r="5" stroke-opacity="0.67"/>
<circle cx="403.5" cy="268.2" r="5" stroke-opacity="0.67"/>
<circle cx="381" cy="285" r="5" stroke-opacity="0.67"/>
<circle cx="358.6" cy="301.8" r="5" stroke-opacity="0.67"/>
<circle cx="336.2" cy="318.6" r="5" stroke-opacity="0.67"/>
<circle cx="313.7" cy="335.5" r="5" stroke-opacity="0.67"/>
<circle cx="291.3" cy="352.3" r="5" stroke-opacity="0.67"/>
<circle cx="268.8" cy="369.1" r="5" stroke-opacity="0.67"/>
<circle cx="246.4" cy="386" r="5" stroke-opacity="0.67"/>
<circle cx="223.9" cy="402.8" r="5" stroke-opacity="0.67"/>
<circle cx="201.5" cy="419.7" r="5" stroke-opacity="0.67"/>
<circle cx="179.1" cy="436.5" r="5" stroke-opacity="0.67"/>
<circle cx="156.6" cy="453.3" r="5" stroke-opacity="0.67"/>
<circle cx="480.9" cy="212.1" r="5" stroke-opacity="0.67"/>
<circle cx="458.4" cy="228.9" r="5" stroke-opacity="0.67"/>
<circle cx="435.9" cy="245.8" r="5" stroke-opacity="0.67"/>
<circle cx="413.5" cy="262.6" r="5" stroke-opacity="0.67"/>
<circle cx="391" cy="279.5" r="5" stroke-opacity="0.67"/>
<circle cx="368.5" cy="296.3" r="5" stroke-opacity="0.67"/>
<circle cx="346.1" cy="313.2" r="5" stroke-opacity="0.67"/>
<circle cx="323.6" cy="330" r="5" stroke-opacity="0.67"/>
<circle cx="301.1" cy="346.9" r="5" stroke-opacity="0.67"/>
<circle cx="278.7" cy="363.7" r="5" stroke-opacity="0.67"/>
<circle cx="256.2" cy="380.6" r="5" stroke-opacity="0.68"/>
<circle cx="233.7" cy="397.5" r="5" stroke-opacity="0.68"/>
<circle cx="211.2" cy="414.3" r="5" stroke-opacity="0.68"/>
<circle cx="188.8" cy="431.2" r="5" stroke-opacity="0.68"/>
<circle cx="166.3" cy="448" r="5" stroke-opacity="0.68"/>
<circle cx="468.5" cy="223.3" r="5" stroke-opacity="0.68"/>
<circle cx="446" cy="240.2" r="5" stroke-opacity="0.68"/>
<circle cx="423.5" cy="257.1" r="5" stroke-opacity="0.68"/>
<circle cx="401" cy="273.9" r="5" stroke-opacity="0.68"/>
<circle cx="378.5" cy="290.8" r="5" stroke-opacity="0.68"/>
<circle cx="356" cy="307.7" r="5" stroke-opacity="0.68"/>
<circle cx="333.5" cy="324.6" r="5" stroke-opacity="0.68"/>
<circle cx="311" cy="341.5" r="5" stroke-opacity="0.68"/>
<circle cx="288.5" cy="358.3" r="5" stroke-opacity="0.68"/>
<circle cx="266" cy="375.2" r="5" stroke-opacity="0.68"/>
<circle cx="243.5" cy="392.1" r="5" stroke-opacity="0.68"/>
<circle cx="221" cy="409" r="5" stroke-opacity="0.68"/>
<circle cx="198.5" cy="425.9" r="5" stroke-opacity="0.68"/>
<circle cx="176" cy="442.7" r="5" stroke-opacity="0.68"/>
<circle cx="153.5" cy="459.6" r="5" stroke-opacity="0.68"/>
<circle cx="478.6" cy="217.7" r="5" stroke-opacity="0.69"/>
<circle cx="456.1" cy="234.6" r="5" stroke-opacity="0.69"/>
<circle cx="433.6" cy="251.5" r="5" stroke-opacity="0.69"/>
<circle cx="411" cy="268.4" r="5" stroke-opacity="0.69"/>
<circle cx="388.5" cy="285.3" r="5" stroke-opacity="0.69"/>
<circle cx="366" cy="302.2" r="5" stroke-opacity="0.69"/>
<circle cx="343.5" cy="319.1" r="5" stroke-opacity="0.69"/>
<circle cx="320.9" cy="336" r="5" stroke-opacity="0.69"/>
<circle cx="298.4" cy="352.9" r="5" stroke-opacity="0.69"/>
<circle cx="275.9" cy="369.8" r="5" stroke-opacity="0.69"/>
<circle cx="253.3" cy="386.7" r="5" stroke-opacity="0.69"/>
<circle cx="230.8" cy="403.6" r="5" stroke-opacity="0.69"/>
<circle cx="208.3" cy="420.5" r="5" stroke-opacity="0.69"/>
<circle cx="185.7" cy="437.4" r="5" stroke-opacity="0.69"/>
<circle cx="163.2" cy="454.3" r="5" stroke-opacity="0.69"/>
<circle cx="466.2" cy="229" r="5" stroke-opacity="0.70"/>
<circle cx="443.7" cy="245.9" r="5" stroke-opacity="0.70"/>
<circle cx="421.1" cy="262.9" r="5" stroke-opacity="0.70"/>
<circle cx="398.5" cy="279.8" r="5" stroke-opacity="0.70"/>
<circle cx="376" cy="296.7" r="5" stroke-opacity="0.70"/>
<circle cx="353.4" cy="313.6" r="5" stroke-opacity="0.70"/>
<circle cx="330.9" cy="330.5" r="5" stroke-opacity="0.70"/>
<circle cx="308.3" cy="347.5" r="5" stroke-opacity="0.70"/>
<circle cx="285.8" cy="364.4" r="5" stroke-opacity="0.70"/>
<circle cx="263.2" cy="381.3" r="5" stroke-opacity="0.70"/>
<circle cx="240.6" cy="398.2" r="5" stroke-opacity="0.70"/>
<circle cx="218.1" cy="415.2" r="5" stroke-opacity="0.70"/>
<circle cx="195.5" cy="432.1" r="5" stroke-opacity="0.70"/>
<circle cx="172.9" cy="449" r="5" stroke-opacity="0.70"/>
<circle cx="150.4" cy="465.9" r="5" stroke-opacity="0.70"/>
<circle cx="476.4" cy="223.4" r="5" stroke-opacity="0.71"/>
<circle cx="453.8" cy="240.3" r="5" stroke-opacity="0.71"/>
<circle cx="431.2" cy="257.3" r="5" stroke-opacity="0.71"/>
<circle cx="408.6" cy="274.2" r="5" stroke-opacity="0.71"/>
<circle cx="386" cy="291.2" r="5" stroke-opacity="0.71"/>
<circle cx="363.4" cy="308.1" r="5" stroke-opacity="0.71"/>
<circle cx="340.8" cy="325.1" r="5" stroke-opacity="0.71"/>
<circle cx="318.3" cy="342" r="5" stroke-opacity="0.71"/>
<circle cx="295.7" cy="358.9" r="5" stroke-opacity="0.71"/>
<circle cx="273.1" cy="375.9" r="5" stroke-opacity="0.71"/>
<circle cx="250.5" cy="392.8" r="5" stroke-opacity="0.71"/>
<circle cx="227.9" cy="409.8" r="5" stroke-opacity="0.71"/>
<circle cx="205.3" cy="426.7" r="5" stroke-opacity="0.71"/>
<circle cx="182.7" cy="443.7" r="5" stroke-opacity="0.71"/>
<circle cx="160.1" cy="460.6" r="5" stroke-opacity="0.71"/>
<circle cx="463.9" cy="234.7" r="5" stroke-opacity="0.71"/>
<circle cx="441.3" cy="251.7" r="5" stroke-opacity="0.71"/>
<circle cx="418.7" cy="268.7" r="5" stroke-opacity="0.71"/>
<circle cx="396.1" cy="285.6" r="5" stroke-opacity="0.72"/>
<circle cx="373.5" cy="302.6" r="5" stroke-opacity="0.72"/>
<circle cx="350.8" cy="319.6" r="5" stroke-opacity="0.72"/>
<circle cx="328.2" cy="336.5" r="5" stroke-opacity="0.72"/>
<circle cx="305.6" cy="353.5" r="5" stroke-opacity="0.72"/>
<circle cx="283" cy="370.5" r="5" stroke-opacity="0.72"/>
<circle cx="260.4" cy="387.4" r="5" stroke-opacity="0.72"/>
<circle cx="237.7" cy="404.4" r="5" stroke-opacity="0.72"/>
<circle cx="215.1" cy="421.4" r="5" stroke-opacity="0.72"/>
<circle cx="192.5" cy="438.4" r="5" stroke-opacity="0.72"/>
<circle cx="169.9" cy="455.3" r="5" stroke-opacity="0.72"/>
<circle cx="147.2" cy="472.3" r="5" stroke-opacity="0.72"/>
<circle cx="474.1" cy="229.1" r="5" stroke-opacity="0.72"/>
<circle cx="451.4" cy="246.1" r="5" stroke-opacity="0.72"/>
<circle cx="428.8" cy="263.1" r="5" stroke-opacity="0.72"/>
<circle cx="406.2" cy="280.1" r="5" stroke-opacity="0.72"/>
<circle cx="383.5" cy="297.1" r="5" stroke-opacity="0.72"/>
<circle cx="360.9" cy="314.1" r="5" stroke-opacity="0.72"/>
<circle cx="338.2" cy="331" r="5" stroke-opacity="0.72"/>
<circle cx="315.6" cy="348" r="5" stroke-opacity="0.72"/>
<circle cx="292.9" cy="365" r="5" stroke-opacity="0.72"/>
<circle cx="270.3" cy="382" r="5" stroke-opacity="0.72"/>
<circle cx="247.6" cy="399" r="5" stroke-opacity="0.72"/>
<circle cx="225" cy="416" r="5" stroke-opacity="0.72"/>
<circle cx="202.3" cy="433" r="5" stroke-opacity="0.72"/>
<circle cx="179.6" cy="450" r="5" stroke-opacity="0.72"/>
<circle cx="157" cy="467" r="5" stroke-opacity="0.73"/>
<circle cx="461.6" cy="240.5" r="5" stroke-opacity="0.73"/>
<circle cx="438.9" cy="257.5" r="5" stroke-opacity="0.73"/>
<circle cx="416.3" cy="274.5" r="5" stroke-opacity="0.73"/>
<circle cx="393.6" cy="291.5" r="5" stroke-opacity="0.73"/>
<circle cx="370.9" cy="308.5" r="5" stroke-opacity="0.73"/>
<circle cx="348.2" cy="325.5" r="5" stroke-opacity="0.73"/>
<circle cx="325.6" cy="342.6" r="5" stroke-opacity="0.73"/>
<circle cx="302.9" cy="359.6" r="5" stroke-opacity="0.73"/>
<circle cx="280.2" cy="376.6" r="5" stroke-opacity="0.73"/>
<circle cx="257.5" cy="393.6" r="5" stroke-opacity="0.73"/>
<circle cx="234.8" cy="410.6" r="5" stroke-opacity="0.73"/>
<circle cx="212.1" cy="427.6" r="5" stroke-opacity="0.73"/>
<circle cx="189.5" cy="444.7" r="5" stroke-opacity="0.73"/>
<circle cx="166.8" cy="461.7" r="5" stroke-opacity="0.73"/>
<circle cx="144.1" cy="478.7" r="5" stroke-opacity="0.73"/>
<circle cx="471.8" cy="234.9" r="5" stroke-opacity="0.74"/>
<circle cx="449.1" cy="251.9" r="5" stroke-opacity="0.74"/>
<circle cx="426.4" cy="268.9" r="5" stroke-opacity="0.74"/>
<circle cx="403.7" cy="286" r="5" stroke-opacity="0.74"/>
<circle cx="381" cy="303" r="5" stroke-opacity="0.74"/>
<circle cx="358.3" cy="320" r="5" stroke-opacity="0.74"/>
<circle cx="335.6" cy="337.1" r="5" stroke-opacity="0.74"/>
<circle cx="312.9" cy="354.1" r="5" stroke-opacity="0.74"/>
<circle cx="290.1" cy="371.1" r="5" stroke-opacity="0.74"/>
<circle cx="267.4" cy="388.2" r="5" stroke-opacity="0.74"/>
<circle cx="244.7" cy="405.2" r="5" stroke-opacity="0.74"/>
<circle cx="222" cy="422.3" r="5" stroke-opacity="0.74"/>
<circle cx="199.3" cy="439.3" r="5" stroke-opacity="0.74"/>
<circle cx="176.6" cy="456.3" r="5" stroke-opacity="0.74"/>
<circle cx="153.9" cy="473.4" r="5" stroke-opacity="0.74"/>
<circle cx="459.3" cy="246.3" r="5" stroke-opacity="0.75"/>
<circle cx="436.6" cy="263.3" r="5" stroke-opacity="0.75"/>
<circle cx="413.8" cy="280.4" r="5" stroke-opacity="0.75"/>
<circle cx="391.1" cy="297.4" r="5" stroke-opacity="0.75"/>
<circle cx="368.3" cy="314.5" r="5" stroke-opacity="0.75"/>
<circle cx="345.6" cy="331.6" r="5" stroke-opacity="0.75"/>
<circle cx="322.9" cy="348.6" r="5" stroke-opacity="0.75"/>
<circle cx="300.1" cy="365.7" r="5" stroke-opacity="0.75"/>
<circle cx="277.4" cy="382.7" r="5" stroke-opacity="0.75"/>
<circle cx="254.6" cy="399.8" r="5" stroke-opacity="0.75"/>
<circle cx="231.9" cy="416.9" r="5" stroke-opacity="0.75"/>
<circle cx="209.1" cy="433.9" r="5" stroke-opacity="0.75"/>
<circle cx="186.4" cy="451" r="5" stroke-opacity="0.75"/>
<circle cx="163.7" cy="468.1" r="5" stroke-opacity="0.75"/>
<circle cx="140.9" cy="485.1" r="5" stroke-opacity="0.75"/>
<circle cx="469.5" cy="240.6" r="5" stroke-opacity="0.76"/>
<circle cx="446.7" cy="257.7" r="5" stroke-opacity="0.76"/>
<circle cx="424" cy="274.8" r="5" stroke-opacity="0.76"/>
<circle cx="401.2" cy="291.9" r="5" stroke-opacity="0.76"/>
<circle cx="378.4" cy="309" r="5" stroke-opacity="0.76"/>
<circle cx="355.7" cy="326" r="5" stroke-opacity="0.76"/>
<circle cx="332.9" cy="343.1" r="5" stroke-opacity="0.76"/>
<circle cx="310.1" cy="360.2" r="5" stroke-opacity="0.76"/>
<circle cx="287.4" cy="377.3" r="5" stroke-opacity="0.76"/>
<circle cx="264.6" cy="394.4" r="5" stroke-opacity="0.76"/>
<circle cx="241.8" cy="411.5" r="5" stroke-opacity="0.76"/>
<circle cx="219" cy="428.5" r="5" stroke-opacity="0.76"/>
<circle cx="196.3" cy="445.6" r="5" stroke-opacity="0.76"/>
<circle cx="173.5" cy="462.7" r="5" stroke-opacity="0.76"/>
<circle cx="150.7" cy="479.8" r="5" stroke-opacity="0.76"/>
<circle cx="457" cy="252.1" r="5" stroke-opacity="0.76"/>
<circle cx="434.2" cy="269.2" r="5" stroke-opacity="0.76"/>
<circle cx="411.4" cy="286.3" r="5" stroke-opacity="0.76"/>
<circle cx="388.6" cy="303.4" r="5" stroke-opacity="0.77"/>
<circle cx="365.8" cy="320.5" r="5" stroke-opacity="0.77"/>
<circle cx="343" cy="337.6" r="5" stroke-opacity="0.77"/>
<circle cx="320.2" cy="354.7" r="5" stroke-opacity="0.77"/>
<circle cx="297.4" cy="371.8" r="5" stroke-opacity="0.77"/>
<circle cx="274.6" cy="388.9" r="5" stroke-opacity="0.77"/>
<circle cx="251.8" cy="406" r="5" stroke-opacity="0.77"/>
<circle cx="228.9" cy="423.1" r="5" stroke-opacity="0.77"/>
<circle cx="206.1" cy="440.2" r="5" stroke-opacity="0.77"/>
<circle cx="183.3" cy="457.4" r="5" stroke-opacity="0.77"/>
<circle cx="160.5" cy="474.5" r="5" stroke-opacity="0.77"/>
<circle cx="467.2" cy="246.4" r="5" stroke-opacity="0.77"/>
<circle cx="444.4" cy="263.6" r="5" stroke-opacity="0.77"/>
<circle cx="421.5" cy="280.7" r="5" stroke-opacity="0.77"/>
<circle cx="398.7" cy="297.8" r="5" stroke-opacity="0.77"/>
<circle cx="375.9" cy="314.9" r="5" stroke-opacity="0.77"/>
<circle cx="353.1" cy="332.1" r="5" stroke-opacity="0.77"/>
<circle cx="330.2" cy="349.2" r="5" stroke-opacity="0.77"/>
<circle cx="307.4" cy="366.3" r="5" stroke-opacity="0.77"/>
<circle cx="284.6" cy="383.5" r="5" stroke-opacity="0.77"/>
<circle cx="261.7" cy="400.6" r="5" stroke-opacity="0.77"/>
<circle cx="238.9" cy="417.7" r="5" stroke-opacity="0.77"/>
<circle cx="216" cy="434.9" r="5" stroke-opacity="0.77"/>
<circle cx="193.2" cy="452" r="5" stroke-opacity="0.77"/>
<circle cx="170.4" cy="469.1" r="5" stroke-opacity="0.78"/>
<circle cx="454.6" cy="257.9" r="5" stroke-opacity="0.78"/>
<circle cx="431.7" cy="275.1" r="5" stroke-opacity="0.78"/>
<circle cx="408.9" cy="292.2" r="5" stroke-opacity="0.78"/>
<circle cx="386" cy="309.4" r="5" stroke-opacity="0.78"/>
<circle cx="363.2" cy="326.5" r="5" stroke-opacity="0.78"/>
<circle cx="340.3" cy="343.7" r="5" stroke-opacity="0.78"/>
<circle cx="317.4" cy="360.8" r="5" stroke-opacity="0.78"/>
<circle cx="294.6" cy="378" r="5" stroke-opacity="0.78"/>
<circle cx="271.7" cy="395.1" r="5" stroke-opacity="0.78"/>
<circle cx="248.9" cy="412.3" r="5" stroke-opacity="0.78"/>
<circle cx="226" cy="429.4" r="5" stroke-opacity="0.78"/>
<circle cx="203.1" cy="446.6" r="5" stroke-opacity="0.78"/>
<circle cx="180.2" cy="463.8" r="5" stroke-opacity="0.78"/>
<circle cx="464.9" cy="252.3" r="5" stroke-opacity="0.79"/>
<circle cx="442" cy="269.5" r="5" stroke-opacity="0.79"/>
<circle cx="419.1" cy="286.6" r="5" stroke-opacity="0.79"/>
<circle cx="396.2" cy="303.8" r="5" stroke-opacity="0.79"/>
<circle cx="373.3" cy="321" r="5" stroke-opacity="0.79"/>
<circle cx="350.4" cy="338.1" r="5" stroke-opacity="0.79"/>
<circle cx="327.5" cy="355.3" r="5" stroke-opacity="0.79"/>
<circle cx="304.6" cy="372.5" r="5" stroke-opacity="0.79"/>
<circle cx="281.7" cy="389.7" r="5" stroke-opacity="0.79"/>
<circle cx="258.8" cy="406.8" r="5" stroke-opacity="0.79"/>
<circle cx="235.9" cy="424" r="5" stroke-opacity="0.79"/>
<circle cx="213" cy="441.2" r="5" stroke-opacity="0.79"/>
<circle cx="190.1" cy="458.4" r="5" stroke-opacity="0.79"/>
<circle cx="452.2" cy="263.8" r="5" stroke-opacity="0.80"/>
<circle cx="429.3" cy="281" r="5" stroke-opacity="0.80"/>
<circle cx="406.4" cy="298.2" r="5" stroke-opacity="0.80"/>
<circle cx="383.5" cy="315.4" r="5" stroke-opacity="0.80"/>
<circle cx="360.6" cy="332.6" r="5" stroke-opacity="0.80"/>
<circle cx="337.6" cy="349.8" r="5" stroke-opacity="0.80"/>
<circle cx="314.7" cy="367" r="5" stroke-opacity="0.80"/>
<circle cx="291.8" cy="384.2" r="5" stroke-opacity="0.80"/>
<circle cx="268.9" cy="401.4" r="5" stroke-opacity="0.80"/>
<circle cx="245.9" cy="418.6" r="5" stroke-opacity="0.80"/>
<circle cx="223" cy="435.8" r="5" stroke-opacity="0.80"/>
<circle cx="200.1" cy="453" r="5" stroke-opacity="0.80"/>
<circle cx="462.5" cy="258.2" r="5" stroke-opacity="0.81"/>
<circle cx="439.6" cy="275.4" r="5" stroke-opacity="0.81"/>
<circle cx="416.6" cy="292.6" r="5" stroke-opacity="0.81"/>
<circle cx="393.7" cy="309.8" r="5" stroke-opacity="0.81"/>
<circle cx="370.7" cy="327" r="5" stroke-opacity="0.81"/>
<circle cx="347.8" cy="344.2" r="5" stroke-opacity="0.81"/>
<circle cx="324.8" cy="361.5" r="5" stroke-opacity="0.81"/>
<circle cx="301.9" cy="378.7" r="5" stroke-opacity="0.81"/>
<circle cx="278.9" cy="395.9" r="5" stroke-opacity="0.81"/>
<circle cx="256" cy="413.1" r="5" stroke-opacity="0.81"/>
<circle cx="233" cy="430.4" r="5" stroke-opacity="0.81"/>
<circle cx="210" cy="447.6" r="5" stroke-opacity="0.81"/>
<circle cx="449.9" cy="269.7" r="5" stroke-opacity="0.82"/>
<circle cx="426.9" cy="287" r="5" stroke-opacity="0.82"/>
<circle cx="403.9" cy="304.2" r="5" stroke-opacity="0.82"/>
<circle cx="380.9" cy="321.4" r="5" stroke-opacity="0.82"/>
<circle cx="357.9" cy="338.7" r="5" stroke-opacity="0.82"/>
<circle cx="335" cy="355.9" r="5" stroke-opacity="0.82"/>
<circle cx="312" cy="373.2" r="5" stroke-opacity="0.82"/>
<circle cx="289" cy="390.4" r="5" stroke-opacity="0.82"/>
<circle cx="266" cy="407.7" r="5" stroke-opacity="0.82"/>
<circle cx="243" cy="424.9" r="5" stroke-opacity="0.82"/>
<circle cx="220" cy="442.2" r="5" stroke-opacity="0.82"/>
<circle cx="460.2" cy="264.1" r="5" stroke-opacity="0.82"/>
<circle cx="437.2" cy="281.3" r="5" stroke-opacity="0.82"/>
<circle cx="414.2" cy="298.6" r="5" stroke-opacity="0.82"/>
<circle cx="391.2" cy="315.8" r="5" stroke-opacity="0.82"/>
<circle cx="368.1" cy="333.1" r="5" stroke-opacity="0.82"/>
<circle cx="345.1" cy="350.4" r="5" stroke-opacity="0.82"/>
<circle cx="322.1" cy="367.7" r="5" stroke-opacity="0.82"/>
<circle cx="299.1" cy="384.9" r="5" stroke-opacity="0.83"/>
<circle cx="276.1" cy="402.2" r="5" stroke-opacity="0.83"/>
<circle cx="253" cy="419.5" r="5" stroke-opacity="0.83"/>
<circle cx="230" cy="436.7" r="5" stroke-opacity="0.83"/>
<circle cx="447.5" cy="275.7" r="5" stroke-opacity="0.83"/>
<circle cx="424.5" cy="293" r="5" stroke-opacity="0.83"/>
<circle cx="401.4" cy="310.2" r="5" stroke-opacity="0.83"/>
<circle cx="378.4" cy="327.5" r="5" stroke-opacity="0.83"/>
<circle cx="355.3" cy="344.8" r="5" stroke-opacity="0.83"/>
<circle cx="332.3" cy="362.1" r="5" stroke-opacity="0.83"/>
<circle cx="309.2" cy="379.4" r="5" stroke-opacity="0.83"/>
<circle cx="286.2" cy="396.7" r="5" stroke-opacity="0.83"/>
<circle cx="263.1" cy="414" r="5" stroke-opacity="0.83"/>
<circle cx="240.1" cy="431.3" r="5" stroke-opacity="0.83"/>
<circle cx="457.8" cy="270" r="5" stroke-opacity="0.84"/>
<circle cx="434.8" cy="287.3" r="5" stroke-opacity="0.84"/>
<circle cx="411.7" cy="304.6" r="5" stroke-opacity="0.84"/>
<circle cx="388.6" cy="321.9" r="5" stroke-opacity="0.84"/>
<circle cx="365.5" cy="339.2" r="5" stroke-opacity="0.84"/>
<circle cx="342.5" cy="356.6" r="5" stroke-opacity="0.84"/>
<circle cx="319.4" cy="373.9" r="5" stroke-opacity="0.84"/>
<circle cx="296.3" cy="391.2" r="5" stroke-opacity="0.84"/>
<circle cx="273.2" cy="408.5" r="5" stroke-opacity="0.84"/>
<circle cx="250.1" cy="425.8" r="5" stroke-opacity="0.84"/>
<circle cx="445.1" cy="281.6" r="5" stroke-opacity="0.85"/>
<circle cx="422" cy="299" r="5" stroke-opacity="0.85"/>
<circle cx="398.9" cy="316.3" r="5" stroke-opacity="0.85"/>
<circle cx="375.8" cy="333.6" r="5" stroke-opacity="0.85"/>
<circle cx="352.7" cy="351" r="5" stroke-opacity="0.85"/>
<circle cx="329.6" cy="368.3" r="5" stroke-opacity="0.85"/>
<circle cx="306.4" cy="385.7" r="5" stroke-opacity="0.85"/>
<circle cx="283.3" cy="403" r="5" stroke-opacity="0.85"/>
<circle cx="260.2" cy="420.3" r="5" stroke-opacity="0.85"/>
<circle cx="455.5" cy="276" r="5" stroke-opacity="0.86"/>
<circle cx="432.3" cy="293.3" r="5" stroke-opacity="0.86"/>
<circle cx="409.2" cy="310.7" r="5" stroke-opacity="0.86"/>
<circle cx="386" cy="328" r="5" stroke-opacity="0.86"/>
<circle cx="362.9" cy="345.4" r="5" stroke-opacity="0.86"/>
<circle cx="339.8" cy="362.8" r="5" stroke-opacity="0.86"/>
<circle cx="316.6" cy="380.1" r="5" stroke-opacity="0.86"/>
<circle cx="293.5" cy="397.5" r="5" stroke-opacity="0.86"/>
<circle cx="270.3" cy="414.8" r="5" stroke-opacity="0.86"/>
<circle cx="442.7" cy="287.6" r="5" stroke-opacity="0.87"/>
<circle cx="419.5" cy="305" r="5" stroke-opacity="0.87"/>
<circle cx="396.3" cy="322.4" r="5" stroke-opacity="0.87"/>
<circle cx="373.2" cy="339.8" r="5" stroke-opacity="0.87"/>
<circle cx="350" cy="357.2" r="5" stroke-opacity="0.87"/>
<circle cx="326.8" cy="374.6" r="5" stroke-opacity="0.87"/>
<circle cx="303.7" cy="392" r="5" stroke-opacity="0.87"/>
<circle cx="280.5" cy="409.3" r="5" stroke-opacity="0.87"/>
<circle cx="453.1" cy="282" r="5" stroke-opacity="0.88"/>
<circle cx="429.9" cy="299.4" r="5" stroke-opacity="0.88"/>
<circle cx="406.7" cy="316.8" r="5" stroke-opacity="0.88"/>
<circle cx="383.5" cy="334.2" r="5" stroke-opacity="0.88"/>
<circle cx="360.3" cy="351.6" r="5" stroke-opacity="0.88"/>
<circle cx="337.1" cy="369" r="5" stroke-opacity="0.88"/>
<circle cx="313.9" cy="386.4" r="5" stroke-opacity="0.88"/>
<circle cx="290.6" cy="403.8" r="5" stroke-opacity="0.88"/>
<circle cx="440.3" cy="293.7" r="5" stroke-opacity="0.88"/>
<circle cx="417" cy="311.1" r="5" stroke-opacity="0.88"/>
<circle cx="393.8" cy="328.5" r="5" stroke-opacity="0.88"/>
<circle cx="370.6" cy="346" r="5" stroke-opacity="0.89"/>
<circle cx="347.3" cy="363.4" r="5" stroke-opacity="0.89"/>
<circle cx="324.1" cy="380.8" r="5" stroke-opacity="0.89"/>
<circle cx="300.8" cy="398.3" r="5" stroke-opacity="0.89"/>
<circle cx="450.7" cy="288" r="5" stroke-opacity="0.89"/>
<circle cx="427.4" cy="305.4" r="5" stroke-opacity="0.89"/>
<circle cx="404.1" cy="322.9" r="5" stroke-opacity="0.89"/>
<circle cx="380.9" cy="340.4" r="5" stroke-opacity="0.89"/>
<circle cx="357.6" cy="357.8" r="5" stroke-opacity="0.89"/>
<circle cx="334.3" cy="375.3" r="5" stroke-opacity="0.89"/>
<circle cx="311.1" cy="392.7" r="5" stroke-opacity="0.89"/>
<circle cx="437.8" cy="299.8" r="5" stroke-opacity="0.90"/>
<circle cx="414.5" cy="317.2" r="5" stroke-opacity="0.90"/>
<circle cx="391.2" cy="334.7" r="5" stroke-opacity="0.90"/>
<circle cx="367.9" cy="352.2" r="5" stroke-opacity="0.90"/>
<circle cx="344.6" cy="369.7" r="5" stroke-opacity="0.90"/>
<circle cx="321.3" cy="387.2" r="5" stroke-opacity="0.90"/>
<circle cx="448.3" cy="294.1" r="5" stroke-opacity="0.91"/>
<circle cx="424.9" cy="311.6" r="5" stroke-opacity="0.91"/>
<circle cx="401.6" cy="329.1" r="5" stroke-opacity="0.91"/>
<circle cx="378.3" cy="346.6" r="5" stroke-opacity="0.91"/>
<circle cx="354.9" cy="364.1" r="5" stroke-opacity="0.91"/>
<circle cx="331.6" cy="381.6" r="5" stroke-opacity="0.91"/>
<circle cx="435.4" cy="305.9" r="5" stroke-opacity="0.92"/>
<circle cx="412" cy="323.4" r="5" stroke-opacity="0.92"/>
<circle cx="388.7" cy="340.9" r="5" stroke-opacity="0.92"/>
<circle cx="365.3" cy="358.4" r="5" stroke-opacity="0.92"/>
<circle cx="341.9" cy="376" r="5" stroke-opacity="0.92"/>
<circle cx="445.8" cy="300.2" r="5" stroke-opacity="0.93"/>
<circle cx="422.5" cy="317.7" r="5" stroke-opacity="0.93"/>
<circle cx="399.1" cy="335.3" r="5" stroke-opacity="0.93"/>
<circle cx="375.7" cy="352.8" r="5" stroke-opacity="0.93"/>
<circle cx="352.3" cy="370.4" r="5" stroke-opacity="0.93"/>
<circle cx="432.9" cy="312" r="5" stroke-opacity="0.94"/>
<circle cx="409.5" cy="329.6" r="5" stroke-opacity="0.94"/>
<circle cx="386.1" cy="347.2" r="5" stroke-opacity="0.94"/>
<circle cx="362.6" cy="364.7" r="5" stroke-opacity="0.94"/>
<circle cx="443.4" cy="306.3" r="5" stroke-opacity="0.95"/>
<circle cx="419.9" cy="323.9" r="5" stroke-opacity="0.95"/>
<circle cx="396.5" cy="341.5" r="5" stroke-opacity="0.95"/>
<circle cx="373" cy="359.1" r="5" stroke-opacity="0.95"/>
<circle cx="430.4" cy="318.2" r="5" stroke-opacity="0.96"/>
<circle cx="406.9" cy="335.8" r="5" stroke-opacity="0.96"/>
<circle cx="383.5" cy="353.4" r="5" stroke-opacity="0.96"/>
<circle cx="441" cy="312.5" r="5" stroke-opacity="0.96"/>
<circle cx="417.4" cy="330.1" r="5" stroke-opacity="0.96"/>
<circle cx="393.9" cy="347.7" r="5" stroke-opacity="0.96"/>
<circle cx="427.9" cy="324.4" r="5" stroke-opacity="0.97"/>
<circle cx="404.4" cy="342.1" r="5" stroke-opacity="0.97"/>
<circle cx="438.5" cy="318.7" r="5" stroke-opacity="0.98"/>
<circle cx="414.9" cy="336.4" r="5" stroke-opacity="0.98"/>
<circle cx="425.4" cy="330.6" r="5" stroke-opacity="0.99"/>
<circle cx="436" cy="324.9" r="5" stroke-opacity="1.00"/>
</g>
<g fill="#000" fill-opacity="0.5" stroke="#000" stroke-opacity="0.5" stroke-width="2.2">
<circle cx="308.9" cy="267.2" r="6.7"/>
<circle cx="347.7" cy="261" r="6.7"/>
<circle cx="321.6" cy="344.4" r="6.7"/>
<circle cx="394.7" cy="232.6" r="6.7"/>
<circle cx="242" cy="401.9" r="6.7"/>
<circle cx="381.8" cy="283.9" r="6.7"/>
<circle cx="273.3" cy="361.5" r="6.7"/>
<circle cx="345.9" cy="264.9" r="6.7"/>
<circle cx="314.5" cy="378.9" r="6.7"/>
<circle cx="317.6" cy="288" r="6.7"/>
<circle cx="274.6" cy="419.8" r="6.7"/>
<circle cx="253.5" cy="379.9" r="6.7"/>
<circle cx="358.2" cy="354.9" r="6.7"/>
<circle cx="290.3" cy="285.6" r="6.7"/>
<circle cx="400" cy="325.1" r="6.7"/>
</g>
<text x="68.6" y="299.8" font-size="29.6" fill="#505050" text-anchor="middle">500</text>
<text x="72.8" y="380.8" font-size="29.6" fill="#505050" text-anchor="middle">400</text>
<text x="73" y="463.6" font-size="29.6" fill="#505050" text-anchor="middle">300</text>
<text x="123.3" y="572.5" font-size="29.6" fill="#505050" text-anchor="middle">2</text>
<text x="223.3" y="580.1" font-size="29.6" fill="#505050" text-anchor="middle">3</text>
<text x="321.7" y="587.5" font-size="29.6" fill="#505050" text-anchor="middle">4</text>
<text x="419.3" y="595.8" font-size="29.6" fill="#505050" text-anchor="middle">5</text>
<text x="545.7" y="497.5" font-size="29.6" fill="#505050" text-anchor="middle">4</text>
<text x="520.7" y="530.8" font-size="29.6" fill="#505050" text-anchor="middle">6</text>
<text x="496" y="564.1" font-size="29.6" fill="#505050" text-anchor="middle">8</text>
<text x="259.5" y="609.7" font-size="26.5" fill="#505050" text-anchor="middle" transform="rotate(5 259.5 600)">Advertising</text>
<text x="543" y="559.7" font-size="26.5" fill="#505050" text-anchor="middle" transform="rotate(-52 543 550)">Price</text>
<text x="30" y="372.7" font-size="26.5" fill="#505050" text-anchor="middle" transform="rotate(90 30 363)">Pie Sales</text>
<text x="7.5" y="289" font-size="27.8" fill="#505050" text-anchor="middle" transform="rotate(-90 7.5 289)">Pie Sales</text>
<text x="65.9" y="51" font-size="33.6" fill="#000" stroke="#000" stroke-width="0.35" text-anchor="start"><tspan x="-142.8">Multi-Linear Regression Model Visualization (</tspan><tspan font-style="italic" dx="-2.5">R</tspan><tspan dx="5" dy="-12" font-size="23.5">2</tspan><tspan dy="12"> = 0.52)</tspan></text>
</g>
</svg></div>
<div class="p" id="b"><div class="c" style="left:-314px"></div></div>
<div class="p" id="c"><div class="c" style="left:-382.5px"></div></div>
</body></html>
